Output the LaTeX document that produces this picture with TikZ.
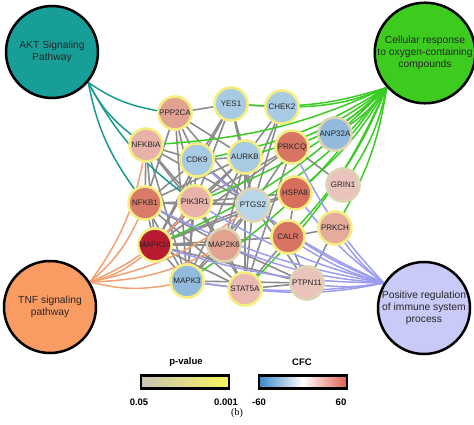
\documentclass[tikz,border=0pt]{standalone}
\usepackage{fontspec}
\setmainfont{Liberation Sans}
\newfontfamily\serifb{Liberation Serif}
\usetikzlibrary{backgrounds}
\definecolor{ringY}{HTML}{F4EE80}
\definecolor{ringB}{HTML}{DDD5B2}
\definecolor{aktC}{HTML}{189E98}
\definecolor{cellC}{HTML}{3DCB1F}
\definecolor{tnfC}{HTML}{F89C64}
\definecolor{posC}{HTML}{CACAF8}
\definecolor{aktE}{HTML}{1A9A8E}
\definecolor{cellE}{HTML}{3ACC22}
\definecolor{tnfE}{HTML}{F4A072}
\definecolor{posE}{HTML}{9C9CF0}
\definecolor{grayE}{HTML}{8C8C8C}
\definecolor{bl1}{HTML}{A8CAE2}
\definecolor{bl2}{HTML}{92BADC}
\definecolor{pk1}{HTML}{E8B2AA}
\definecolor{pk2}{HTML}{E2A292}
\definecolor{rd1}{HTML}{D87462}
\definecolor{rd2}{HTML}{B81A30}
\definecolor{pk3}{HTML}{EAC4BC}
\definecolor{pLow}{HTML}{C8C4B6}
\definecolor{pHigh}{HTML}{F8F45A}
\definecolor{cfcB}{HTML}{3A86C8}
\definecolor{cfcR}{HTML}{E06050}
\begin{document}
\begin{tikzpicture}[x=1pt,y=1pt,
  gene/.style={circle, draw=ringY, line width=2.6pt, minimum size=33pt, inner sep=0pt,
    font=\fontsize{8}{9}\selectfont, text=black!85},
  pale/.style={draw=ringB},
  big/.style={circle, draw=black, line width=2.5pt, minimum size=92pt, inner sep=0pt,
    align=center, font=\fontsize{10.3}{11.8}\selectfont, text=black!85},
  gedge/.style={grayE, line width=1.6pt},
  aedge/.style={aktE, line width=1.5pt},
  cedge/.style={cellE, line width=1.5pt},
  tedge/.style={tnfE, line width=1.5pt},
  pedge/.style={posE, line width=1.5pt},
  lab/.style={font=\bfseries\fontsize{9.5}{10}\selectfont, inner sep=0pt},
  bar/.style={draw=black, line width=2.5pt, minimum width=88pt, minimum height=13pt, inner sep=0pt}
]
\useasboundingbox (0,0) rectangle (474,424);

% big circles
\node[big, fill=aktC] (akt) at (52,372) {AKT Signaling\\Pathway};
\node[big, fill=cellC] (cell) at (425,371) {Cellular response\\to oxygen-containing\\compounds};
\node[big, fill=tnfC] (tnf) at (50,117) {TNF signaling\\pathway};
\node[big, fill=posC] (pos) at (424,116) {Positive regulation\\of immune system\\process};

% genes
\node[gene, fill=pk2] (ppp2ca) at (175,311) {PPP2CA};
\node[gene, fill=bl1] (yes1) at (231,320) {YES1};
\node[gene, fill=bl1] (chek2) at (282,317) {CHEK2};
\node[gene, fill=pk1] (nfkbia) at (146,279) {NFKBIA};
\node[gene, fill=bl1] (cdk9) at (197,264) {CDK9};
\node[gene, fill=bl1] (aurkb) at (245,267) {AURKB};
\node[gene, fill=rd1] (prkcq) at (292,277) {PRKCQ};
\node[gene, pale, fill=bl2] (anp32a) at (335,290) {ANP32A};
\node[gene, fill=rd1!85!pk2] (nfkb1) at (145,221) {NFKB1};
\node[gene, fill=pk1] (pik3r1) at (195,222) {PIK3R1};
\node[gene, pale, fill=bl1!80!white] (ptgs2) at (253,219) {PTGS2};
\node[gene, fill=rd1!95!red] (hspa8) at (295,231) {HSPA8};
\node[gene, pale, fill=pk3] (grin1) at (343,239) {GRIN1};
\node[gene, fill=rd2] (mapk14) at (155,179) {MAPK14};
\node[gene, pale, fill=pk2] (map2k6) at (224,179) {MAP2K6};
\node[gene, fill=rd1] (calr) at (288,187) {CALR};
\node[gene, fill=pk2!90!white] (prkch) at (335,196) {PRKCH};
\node[gene, fill=bl2] (mapk3) at (187,143) {MAPK3};
\node[gene, fill=pk1!90!white] (stat5a) at (245,135) {STAT5A};
\node[gene, pale, fill=pk3] (ptpn11) at (307,141) {PTPN11};

\begin{scope}[on background layer]
% gray interactions
\foreach \a/\b in {ppp2ca/yes1, ppp2ca/cdk9, ppp2ca/aurkb, ppp2ca/pik3r1, ppp2ca/nfkb1, ppp2ca/ptgs2, ppp2ca/mapk3,
  yes1/chek2, yes1/ptgs2, yes1/pik3r1, yes1/mapk14, yes1/aurkb, yes1/cdk9,
  chek2/aurkb, chek2/ptgs2, chek2/map2k6,
  nfkbia/nfkb1, nfkbia/cdk9, nfkbia/pik3r1, nfkbia/mapk14, nfkbia/map2k6, nfkbia/ptgs2, nfkbia/mapk3,
  cdk9/nfkb1, cdk9/mapk14, cdk9/ptgs2, cdk9/mapk3, cdk9/aurkb,
  aurkb/mapk14, aurkb/pik3r1, aurkb/ptgs2, aurkb/map2k6, aurkb/mapk3, aurkb/stat5a, aurkb/nfkb1,
  prkcq/ptgs2, prkcq/grin1, prkcq/pik3r1, prkcq/mapk14, prkcq/stat5a,
  nfkb1/pik3r1, nfkb1/mapk14, nfkb1/mapk3, nfkb1/ptgs2, nfkb1/map2k6, nfkb1/stat5a,
  pik3r1/ptgs2, pik3r1/mapk14, pik3r1/map2k6, pik3r1/mapk3, pik3r1/stat5a, pik3r1/hspa8,
  ptgs2/hspa8, ptgs2/mapk14, ptgs2/map2k6, ptgs2/mapk3, ptgs2/stat5a, ptgs2/calr, ptgs2/ptpn11,
  hspa8/calr, hspa8/mapk14,
  mapk14/map2k6, mapk14/mapk3, mapk14/stat5a, mapk14/ptpn11, mapk14/calr,
  map2k6/mapk3, map2k6/stat5a, map2k6/ptpn11,
  calr/prkch, calr/ptpn11, calr/stat5a, prkch/ptpn11,
  mapk3/stat5a, mapk3/ptpn11, stat5a/ptpn11}
  \draw[gedge] (\a) -- (\b);
% AKT
\foreach \g in {ppp2ca, nfkbia, nfkb1, pik3r1}
  \draw[aedge] (akt.-40) to[bend right=12] (\g);
% Cellular response
\foreach \g in {yes1, chek2, aurkb, prkcq, anp32a, grin1, hspa8, calr, prkch, nfkbia, pik3r1, mapk3, stat5a, ptgs2, mapk14, cdk9}
  \draw[cedge] (cell.222) to[bend left=10] (\g);
% TNF
\foreach \g in {nfkbia, nfkb1, mapk14, mapk3, pik3r1, map2k6, ptgs2}
  \draw[tedge] (tnf.32) to[bend right=12] (\g);
% Positive regulation
\foreach \g in {prkcq, hspa8, calr, prkch, ptpn11, stat5a, mapk3, map2k6, mapk14, pik3r1, cdk9, ptgs2, nfkb1}
  \draw[pedge] (pos.148) to[bend left=8] (\g);
\end{scope}

% legend
\node[bar, left color=pLow, right color=pHigh] (pbar) at (185,42) {};
\node[bar, left color=cfcB, right color=cfcR, middle color=white] (cbar) at (303,42) {};
\node[lab] (ptitle) at (186,62) {p-value};
\node[lab] (ctitle) at (302,62) {CFC};
\node[lab] (p1) at (139,22) {0.05};
\node[lab] (p2) at (226,22) {0.001};
\node[lab] (c1) at (259,22) {-60};
\node[lab] (c2) at (341,22) {60};
\node[font=\serifb\fontsize{10}{11}\selectfont, inner sep=0pt] (cap) at (237,11) {(b)};
\end{tikzpicture}
\end{document}
